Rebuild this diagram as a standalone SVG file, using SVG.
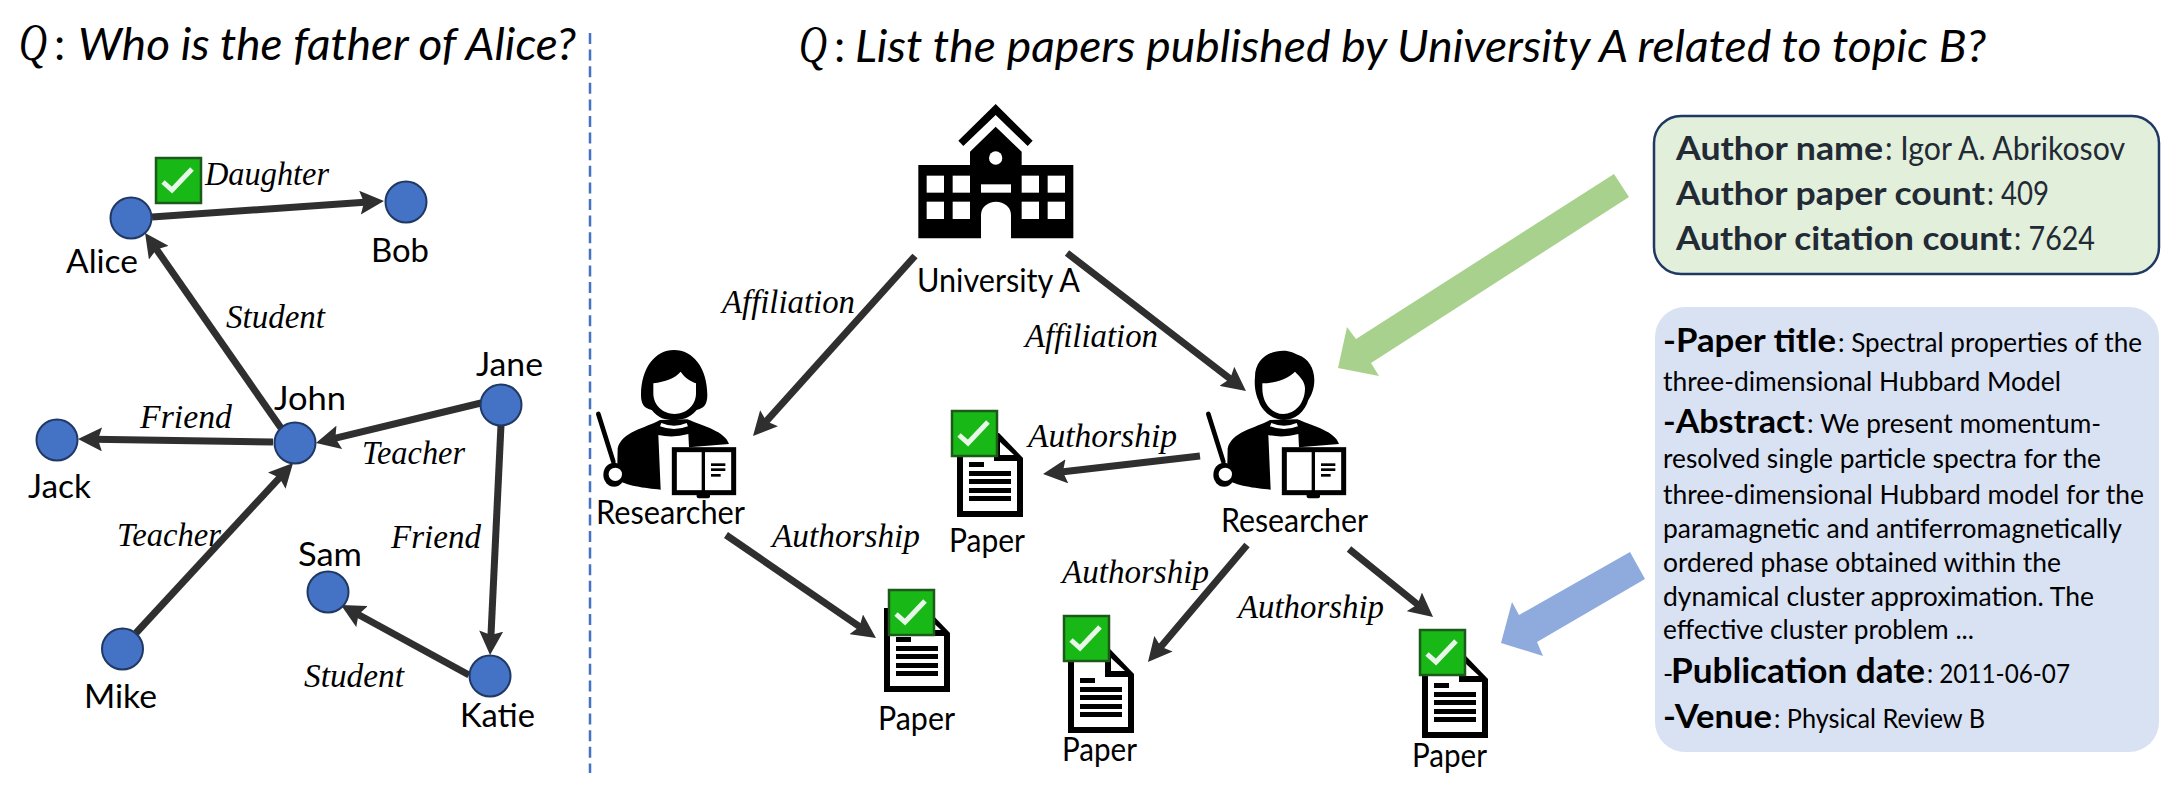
<svg xmlns="http://www.w3.org/2000/svg" width="2180" height="800" viewBox="0 0 2180 800">
<style>
.t{font-family:"Lato","Open Sans","Liberation Sans",sans-serif;fill:#000}
.n{font-size:32px}
.ti{font-size:45px;font-style:italic}
.q{font-family:"Liberation Serif",serif;font-style:italic;font-size:52px;fill:#000}
.e{font-family:"Liberation Serif","Times New Roman",serif;font-style:italic;font-size:34px;fill:#000}
.c{stroke:#2f2f2f;stroke-width:7;fill:none;marker-end:url(#ah)}
.k{fill:#4472c4;stroke:#203864;stroke-width:2}
.b{font-size:27.500px}
.h{font-weight:700;font-size:32px}
.g{fill:#222a35;font-size:32px}
.gb{font-weight:700}
</style>
<defs>
<marker id="ah" markerUnits="userSpaceOnUse" markerWidth="24" markerHeight="24" refX="8" refY="12" orient="auto">
<path d="M0 0L24 12L0 24L4 12Z" fill="#2f2f2f"/>
</marker>
<g id="chk">
<rect x="1" y="1" width="45" height="45" fill="#18b816" stroke="#1c5a1c" stroke-width="2.500"/>
<path d="M8 25L17 33L37 12" fill="none" stroke="#e8f8e8" stroke-width="5"/>
</g>
<g id="doc">
<path d="M0 0H42L66 25V84H0Z" fill="#000"/>
<path d="M6 6H37V28H60V78H6Z" fill="#fff"/>
<path d="M43 9L57 22H43Z" fill="#fff"/>
<rect x="12" y="29" width="15" height="5"/>
<rect x="12" y="38" width="42" height="5"/>
<rect x="12" y="46" width="42" height="5"/>
<rect x="12" y="55" width="42" height="5"/>
<rect x="12" y="63" width="42" height="5"/>
</g>
<g id="body">
<path d="M270 300C225 325 155 335 143 385L141 478C165 497 225 505 272 509L265 345Q310 355 355 342L357 382L477 372C465 335 405 320 352 298Z" fill="#000"/>
<path d="M272 314Q312 330 352 314" fill="none" stroke="#fff" stroke-width="10"/>
<path d="M85 282L130 425" stroke="#000" stroke-width="14" stroke-linecap="round"/>
<ellipse cx="132" cy="464" rx="32" ry="36" fill="#000"/>
<circle cx="136" cy="463" r="20" fill="#fff"/>
<rect x="313" y="389" width="178" height="129" fill="#fff" stroke="#000" stroke-width="15"/>
<rect x="395" y="389" width="10" height="129" fill="#000"/>
<rect x="380" y="520" width="40" height="15" rx="6" fill="#000"/>
<rect x="423" y="430" width="43" height="8"/>
<rect x="423" y="445" width="43" height="8"/>
<rect x="423" y="462" width="29" height="8"/>
</g>
</defs>

<path d="M590 33V773" stroke="#4472c4" stroke-width="2.500" stroke-dasharray="11 5.600" fill="none"/>

<g id="titles">
<text y="60"><tspan class="q" x="19" textLength="28" lengthAdjust="spacingAndGlyphs">Q</tspan><tspan class="t" x="54" font-size="45">:</tspan><tspan class="t ti" x="78" textLength="498" lengthAdjust="spacingAndGlyphs">Who is the father of Alice?</tspan></text>
<text y="62"><tspan class="q" x="799" textLength="28" lengthAdjust="spacingAndGlyphs">Q</tspan><tspan class="t" x="834" font-size="45">:</tspan><tspan class="t ti" x="855" textLength="1131" lengthAdjust="spacingAndGlyphs">List the papers published by University A related to topic B?</tspan></text>
</g>

<g id="connectors">
<path class="c" d="M152 217L368 202.100"/>
<path class="c" d="M281 428L154.200 246.100"/>
<path class="c" d="M273 442L94 439.200"/>
<path class="c" d="M481 403L331.500 439.200"/>
<path class="c" d="M136 633L282.200 474.800"/>
<path class="c" d="M501 425L490.800 639"/>
<path class="c" d="M469 675L355 612.700"/>
<path class="c" d="M915 256L763.700 424.100"/>
<path class="c" d="M1067 253L1233.300 381.200"/>
<path class="c" d="M726 535L862.800 628.900"/>
<path class="c" d="M1200 456L1058.900 472.200"/>
<path class="c" d="M1247 545L1158.300 649.800"/>
<path class="c" d="M1349 549L1420.600 606.900"/>
</g>

<g id="edge-labels">
<text class="e" x="205" y="185" textLength="124" lengthAdjust="spacingAndGlyphs">Daughter</text>
<text class="e" x="226" y="328" textLength="99" lengthAdjust="spacingAndGlyphs">Student</text>
<text class="e" x="140" y="428" textLength="92" lengthAdjust="spacingAndGlyphs">Friend</text>
<text class="e" x="362" y="464" textLength="103" lengthAdjust="spacingAndGlyphs">Teacher</text>
<text class="e" x="117" y="546" textLength="104" lengthAdjust="spacingAndGlyphs">Teacher</text>
<text class="e" x="391" y="548" textLength="90" lengthAdjust="spacingAndGlyphs">Friend</text>
<text class="e" x="304" y="687" textLength="100" lengthAdjust="spacingAndGlyphs">Student</text>
<text class="e" x="722" y="313" textLength="133" lengthAdjust="spacingAndGlyphs">Affiliation</text>
<text class="e" x="1025" y="347" textLength="133" lengthAdjust="spacingAndGlyphs">Affiliation</text>
<text class="e" x="772" y="547" textLength="148" lengthAdjust="spacingAndGlyphs">Authorship</text>
<text class="e" x="1028" y="447" textLength="149" lengthAdjust="spacingAndGlyphs">Authorship</text>
<text class="e" x="1062" y="583" textLength="147" lengthAdjust="spacingAndGlyphs">Authorship</text>
<text class="e" x="1238" y="618" textLength="146" lengthAdjust="spacingAndGlyphs">Authorship</text>
</g>

<g id="alice"><circle class="k" cx="131" cy="218" r="20.500"/><text class="t n" x="66" y="273" textLength="72" lengthAdjust="spacingAndGlyphs">Alice</text></g>
<g id="bob"><circle class="k" cx="406" cy="202" r="20.500"/><text class="t n" x="371" y="262" textLength="58" lengthAdjust="spacingAndGlyphs">Bob</text></g>
<g id="jane"><circle class="k" cx="501" cy="405" r="20.500"/><text class="t n" x="476" y="376" textLength="67" lengthAdjust="spacingAndGlyphs">Jane</text></g>
<g id="john"><circle class="k" cx="295" cy="443" r="20.500"/><text class="t n" x="274" y="410" textLength="72" lengthAdjust="spacingAndGlyphs">John</text></g>
<g id="jack"><circle class="k" cx="57" cy="440" r="20.500"/><text class="t n" x="28" y="498" textLength="63" lengthAdjust="spacingAndGlyphs">Jack</text></g>
<g id="mike"><circle class="k" cx="122.500" cy="649" r="20.500"/><text class="t n" x="84" y="708" textLength="73" lengthAdjust="spacingAndGlyphs">Mike</text></g>
<g id="sam"><circle class="k" cx="328" cy="592" r="20.500"/><text class="t n" x="298" y="566" textLength="64" lengthAdjust="spacingAndGlyphs">Sam</text></g>
<g id="katie"><circle class="k" cx="490" cy="676" r="20.500"/><text class="t n" x="460" y="727" textLength="75" lengthAdjust="spacingAndGlyphs">Katie</text></g>

<g id="check-daughter"><use href="#chk" x="155" y="157"/></g>

<g id="university">
<g transform="translate(580,80) scale(.33333)">
<path d="M1135 182L1247 72L1358 182L1343 198L1247 105L1150 198Z"/>
<path d="M1015 255H1170V215L1247 140L1325 215V255H1480V475H1293V405A45 40 0 0 0 1203 405V475H1015Z"/>
<g fill="#fff">
<circle cx="1247" cy="234" r="20"/>
<rect x="1203" y="313" width="90" height="25"/>
<rect x="1040" y="287" width="52" height="51"/><rect x="1118" y="287" width="52" height="51"/><rect x="1325" y="287" width="52" height="51"/><rect x="1403" y="287" width="52" height="51"/>
<rect x="1040" y="365" width="52" height="52"/><rect x="1118" y="365" width="52" height="52"/><rect x="1325" y="365" width="52" height="52"/><rect x="1403" y="365" width="52" height="52"/>
</g>
</g>
<text class="t n" x="917" y="292" textLength="163" lengthAdjust="spacingAndGlyphs">University A</text>
</g>

<g id="researcher-left">
<g transform="translate(570,320) scale(.33333)">
<use href="#body"/>
<g transform="translate(60,60)">
<path d="M252 30C310 30 352 85 352 165C352 195 340 205 320 210C300 235 275 240 252 240C225 240 205 235 185 210C165 205 153 195 153 165C153 85 195 30 252 30Z"/>
<path d="M190 130C225 125 255 115 272 95C285 115 305 125 318 130V160C318 195 290 222 254 222C218 222 190 195 190 160Z" fill="#fff"/>
</g>
</g>
<text class="t n" x="596" y="524" textLength="149" lengthAdjust="spacingAndGlyphs">Researcher</text>
</g>

<g id="researcher-right">
<g transform="translate(1180,320) scale(.33333)">
<use href="#body"/>
<path d="M225 170C225 120 265 92 310 92C330 92 345 100 355 105C385 115 403 145 403 180C403 205 395 225 385 240C375 275 345 300 312 300C280 300 245 275 235 240C228 225 222 200 225 170Z"/>
<path d="M247 190C280 190 320 180 345 155C360 170 375 185 375 205C375 250 345 282 310 282C275 282 247 250 247 205Z" fill="#fff"/>
</g>
<text class="t n" x="1221" y="532" textLength="147" lengthAdjust="spacingAndGlyphs">Researcher</text>
</g>

<g id="paper-1"><use href="#doc" x="884" y="608"/><use href="#chk" x="888" y="589"/><text class="t n" x="878" y="730" textLength="77" lengthAdjust="spacingAndGlyphs">Paper</text></g>
<g id="paper-2"><use href="#doc" x="957" y="433"/><use href="#chk" x="951" y="410"/><text class="t n" x="949" y="552" textLength="76" lengthAdjust="spacingAndGlyphs">Paper</text></g>
<g id="paper-3"><use href="#doc" x="1068" y="649"/><use href="#chk" x="1063" y="615"/><text class="t n" x="1062" y="761" textLength="75" lengthAdjust="spacingAndGlyphs">Paper</text></g>
<g id="paper-4"><use href="#doc" x="1422" y="654"/><use href="#chk" x="1419" y="629"/><text class="t n" x="1412" y="767" textLength="75" lengthAdjust="spacingAndGlyphs">Paper</text></g>

<g id="arrow-green"><path d="M1614 174L1629 197L1371 363L1379 376L1338 368L1347 327L1356 339Z" fill="#a9d18e"/></g>
<g id="arrow-blue"><path d="M1630 552L1645 579L1537 642L1543 656L1501 643L1512 602L1519 615Z" fill="#8faadc"/></g>

<g id="author-box">
<rect x="1654" y="116" width="505" height="158" rx="27" fill="#e2efda" stroke="#1f3864" stroke-width="2.500"/>
<text class="t g" y="160"><tspan class="gb" x="1676" textLength="207" lengthAdjust="spacingAndGlyphs">Author name</tspan><tspan x="1885" textLength="240" lengthAdjust="spacingAndGlyphs">: Igor A. Abrikosov</tspan></text>
<text class="t g" y="205"><tspan class="gb" x="1676" textLength="309" lengthAdjust="spacingAndGlyphs">Author paper count</tspan><tspan x="1987" textLength="62" lengthAdjust="spacingAndGlyphs">: 409</tspan></text>
<text class="t g" y="250"><tspan class="gb" x="1676" textLength="336" lengthAdjust="spacingAndGlyphs">Author citation count</tspan><tspan x="2014" textLength="81" lengthAdjust="spacingAndGlyphs">: 7624</tspan></text>
</g>

<g id="paper-box">
<rect x="1655" y="307" width="504" height="445" rx="30" fill="#d9e2f3"/>
<text class="t b" y="352"><tspan class="h" x="1663" textLength="173" lengthAdjust="spacingAndGlyphs">-Paper title</tspan><tspan x="1838" textLength="304" lengthAdjust="spacingAndGlyphs">: Spectral properties of the</tspan></text>
<text class="t b" x="1663" y="391" textLength="398" lengthAdjust="spacingAndGlyphs">three-dimensional Hubbard Model</text>
<text class="t b" y="433"><tspan class="h" x="1663" textLength="142" lengthAdjust="spacingAndGlyphs">-Abstract</tspan><tspan x="1807" textLength="294" lengthAdjust="spacingAndGlyphs">: We present momentum-</tspan></text>
<text class="t b" x="1663" y="468" textLength="438" lengthAdjust="spacingAndGlyphs">resolved single particle spectra for the</text>
<text class="t b" x="1663" y="504" textLength="481" lengthAdjust="spacingAndGlyphs">three-dimensional Hubbard model for the</text>
<text class="t b" x="1663" y="538" textLength="459" lengthAdjust="spacingAndGlyphs">paramagnetic and antiferromagnetically</text>
<text class="t b" x="1663" y="572" textLength="398" lengthAdjust="spacingAndGlyphs">ordered phase obtained within the</text>
<text class="t b" x="1663" y="606" textLength="431" lengthAdjust="spacingAndGlyphs">dynamical cluster approximation. The</text>
<text class="t b" x="1663" y="639" textLength="311" lengthAdjust="spacingAndGlyphs">effective cluster problem ...</text>
<text class="t b" y="683"><tspan x="1663">-</tspan><tspan class="h" x="1671" font-size="34" style="font-size:34px" textLength="254" lengthAdjust="spacingAndGlyphs">Publication date</tspan><tspan x="1927" textLength="143" lengthAdjust="spacingAndGlyphs">: 2011-06-07</tspan></text>
<text class="t b" y="728"><tspan class="h" x="1663" textLength="109" lengthAdjust="spacingAndGlyphs">-Venue</tspan><tspan x="1774" textLength="211" lengthAdjust="spacingAndGlyphs">: Physical Review B</tspan></text>
</g>
</svg>
